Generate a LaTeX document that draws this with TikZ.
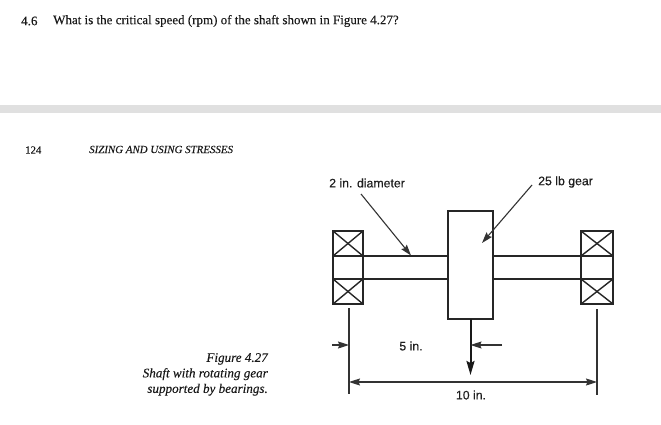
\documentclass[tikz,border=0pt]{standalone}
\usepackage{fontspec}
\setmainfont{Liberation Serif}
\setsansfont{Liberation Sans}
\newfontfamily\dimfont{Liberation Sans}[FakeBold=0.3]
\newfontfamily\serifdark{Liberation Serif}[FakeBold=0.12]
\usetikzlibrary{arrows.meta}
\tikzset{
  part/.style={draw=black!85,line width=1.6pt,inner sep=0pt,outer sep=0pt,anchor=north west},
  shaftline/.style={draw=black!85,line width=1.4pt},
  thinline/.style={draw=black!80,line width=1.1pt},
  leader/.style={thinline,-{Stealth[length=11pt,width=7pt,inset=1.5pt]}},
  dimline/.style={thinline,{Stealth[length=11pt,width=7pt,inset=1.5pt]}-{Stealth[length=11pt,width=7pt,inset=1.5pt]}},
  book/.style={inner sep=0pt,text=black!90,font=\serifdark\fontsize{13}{14}\selectfont,anchor=west},
  ital/.style={inner sep=0pt,text=black!90,font=\serifdark\itshape\fontsize{13.1}{15.5}\selectfont},
  lab/.style={inner sep=0pt,text=black!88,font=\dimfont\fontsize{12.3}{14}\selectfont}
}
\begin{document}
\begin{tikzpicture}[x=1pt,y=-1pt]
\useasboundingbox (0,0) rectangle (661,425);
\fill[white] (0,0) rectangle (661,425);
\fill[black!12] (0,105) rectangle (661,113);
% page text
\node[book] (num) at (21,21) {4.6};
\node[book] (q) at (53,21) {What is the critical speed (rpm) of the shaft shown in Figure 4.27?};
\node[book,font=\serifdark\fontsize{10.8}{12}\selectfont] (page) at (25,150) {124};
\node[book,font=\serifdark\itshape\fontsize{10.9}{12}\selectfont] (head) at (89,149.5) {SIZING AND USING STRESSES};
\node[ital,align=right,anchor=north east] (cap) at (268,353) {Figure 4.27\\Shaft with rotating gear\\supported by bearings.};
% bearings
\node[part,minimum width=30pt,minimum height=25pt] (blt) at (333,231) {};
\node[part,minimum width=30pt,minimum height=23pt] (blm) at (333,256) {};
\node[part,minimum width=30pt,minimum height=25pt] (blb) at (333,279) {};
\node[part,minimum width=32pt,minimum height=25pt] (brt) at (581,231) {};
\node[part,minimum width=32pt,minimum height=23pt] (brm) at (581,256) {};
\node[part,minimum width=32pt,minimum height=25pt] (brb) at (581,279) {};
\foreach \b in {blt,blb,brt,brb}{
  \draw[shaftline] (\b.north west) -- (\b.south east);
  \draw[shaftline] (\b.north east) -- (\b.south west);
}
% gear
\node[part,minimum width=45pt,minimum height=108pt] (gear) at (448,211) {};
% shaft
\draw[shaftline] (blm.north east) -- (gear.west |- blm.north);
\draw[shaftline] (blm.south east) -- (gear.west |- blm.south);
\draw[shaftline] (gear.east |- brm.north) -- (brm.north west);
\draw[shaftline] (gear.east |- brm.south) -- (brm.south west);
% labels
\node[lab,anchor=west] (dia) at (329,183) {2 in. diameter};
\node[lab,anchor=west] (gl) at (538,182) {25 lb gear};
\coordinate (diaS) at (361,194);
\coordinate (diaE) at (411,255.5);
\coordinate (glS) at (532,185);
\coordinate (glE) at (482,243);
\draw[leader] (diaS) -- (diaE);
\draw[leader] (glS) -- (glE);
% dimensions
\coordinate (el1) at (349,308);
\coordinate (el2) at (349,394);
\coordinate (er1) at (597,309);
\coordinate (er2) at (597,395);
\draw[thinline] (el1) -- (el2);
\draw[thinline] (er1) -- (er2);
\draw[dimline] (el1 |- 0,382) -- (er1 |- 0,382);
\coordinate (fE) at (470.5,375);
\draw[line width=2pt,draw=black!90,-{Stealth[length=14pt,width=8pt,inset=2pt]}] (gear.south -| fE) -- (fE);
\coordinate (a5l) at (332,345);
\coordinate (a5r) at (502,345);
\draw[leader] (a5l) -- (el1 |- a5l);
\draw[leader] (a5r) -- (fE |- a5r);
\node[lab] (five) at (411,346) {5 in.};
\node[lab] (ten) at (471,395) {10 in.};
\end{tikzpicture}
\end{document}
